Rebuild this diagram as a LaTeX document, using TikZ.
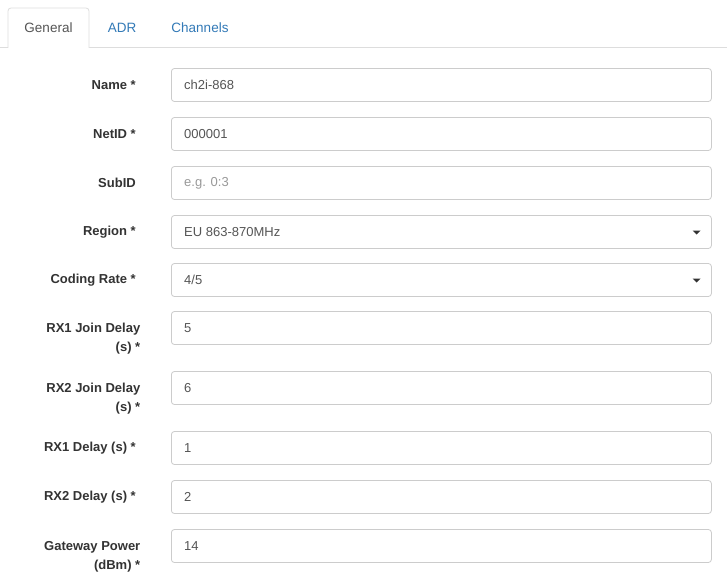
\documentclass[tikz,border=0pt]{standalone}
\usepackage{fontspec}
\setmainfont{Liberation Sans}
\definecolor{lbl}{HTML}{333333}
\definecolor{val}{HTML}{555555}
\definecolor{ph}{HTML}{999999}
\definecolor{bd}{HTML}{CCCCCC}
\definecolor{tabline}{HTML}{DDDDDD}
\definecolor{link}{HTML}{337AB7}
\begin{document}
\begin{tikzpicture}[x=1pt,y=-1pt,
  lab/.style={anchor=east,font=\fontsize{13}{19}\selectfont\bfseries,text=lbl,align=right,inner sep=0pt},
  field/.style={draw=bd,rounded corners=3pt,minimum width=540pt,minimum height=33pt,anchor=west,inner sep=0pt,line width=0.8pt},
  vtxt/.style={anchor=west,font=\fontsize{13}{15}\selectfont,text=val,inner sep=0pt},
  tab/.style={font=\fontsize{13.5}{15}\selectfont,text=link,inner sep=0pt}]
\useasboundingbox[fill=white] (0,0) rectangle (727,578);
% tabs
\draw[tabline,line width=0.8pt] (0,47.5) -- (727,47.5);
\draw[tabline,line width=0.8pt,fill=white,rounded corners=3pt] (8,48) -- (8,8) -- (89,8) -- (89,48);
\node[tab,text=val] (tg) at (48.5,28) {General};
\node[tab] (ta) at (122,28) {ADR};
\node[tab] (tc) at (200,28) {Channels};
% rows
\foreach \n/\y/\t/\v/\c in {
  name/85/{Name *}/ch2i-868/val,
  netid/134/{NetID *}/000001/val,
  subid/183/{SubID}/{e.g. 0:3}/ph,
  region/232/{Region *}/{EU 863-870MHz}/val,
  coding/280/{Coding Rate *}/{4/5}/val,
  rxa/448/{RX1 Delay (s) *}/1/val,
  rxb/497/{RX2 Delay (s) *}/2/val}{
  \node[lab] (l\n) at (136,\y) {\t};
  \node[field] (f\n) at (171,\y) {};
  \node[vtxt,text=\c] (v\n) at (184,\y) {\v};
}
\foreach \n/\y/\t/\v in {
  rja/328/{RX1 Join Delay\\(s) *}/5,
  rjb/388/{RX2 Join Delay\\(s) *}/6,
  gw/546/{Gateway Power\\(dBm) *}/14}{
  \node[lab,anchor=north east] (l\n) at (140.5,\y-5) {\t};
  \node[field] (f\n) at (171,\y) {};
  \node[vtxt] (v\n) at (184,\y) {\v};
}
% carets
\foreach \y in {232,280}{
  \fill[lbl] (692.5,\y-1.5) -- (700.5,\y-1.5) -- (696.5,\y+2.5) -- cycle;
}
\end{tikzpicture}
\end{document}
